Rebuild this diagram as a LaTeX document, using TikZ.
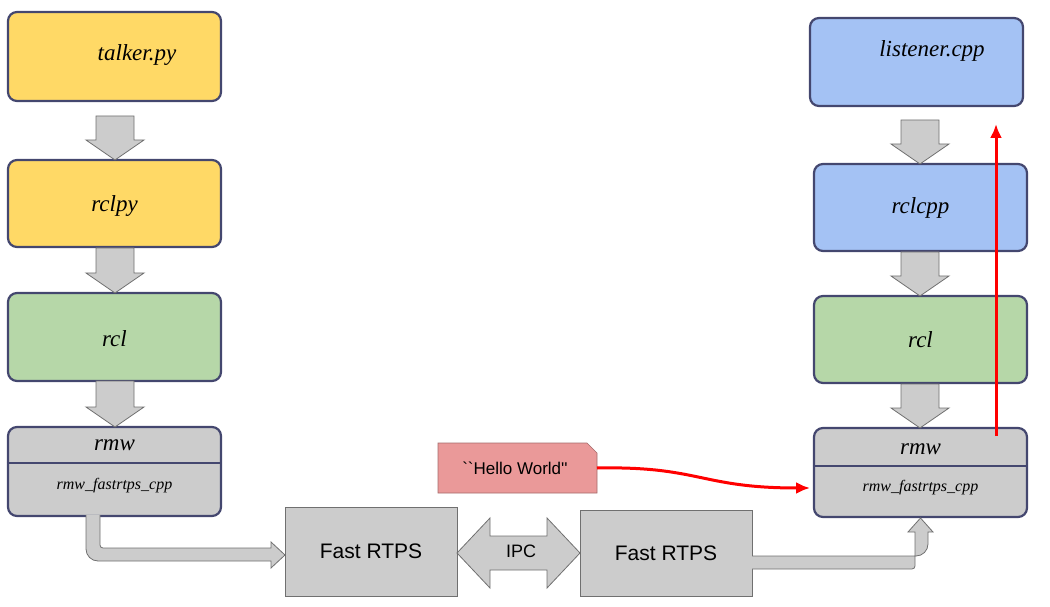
\documentclass[tikz,border=0pt]{standalone}
\usepackage{fontspec}
\usetikzlibrary{arrows.meta}
\setmainfont{Liberation Serif}
\newfontfamily\sansf{Liberation Sans}
\begin{document}
\begin{tikzpicture}[x=1pt,y=1pt,
  box/.style={draw=boxline,line width=2.2pt,rounded corners=9pt,minimum width=213pt,inner sep=0pt},
  lbl/.style={font=\itshape\fontsize{23}{25}\selectfont},
  gray arrow/.style={fill=arrgray,draw=arrline,line width=0.8pt},
  rtps/.style={draw=arrline,fill=arrgray,line width=0.8pt,minimum width=172pt,font=\sansf\fontsize{21}{23}\selectfont}]
\definecolor{boxline}{HTML}{44476F}
\definecolor{yel}{HTML}{FFD966}
\definecolor{grn}{HTML}{B6D7A8}
\definecolor{blu}{HTML}{A4C2F4}
\definecolor{arrgray}{HTML}{CCCCCC}
\definecolor{arrline}{HTML}{707070}
\definecolor{hw}{HTML}{EA9999}
\useasboundingbox (0,0) rectangle (1050,606);
\newcommand\downarr[3]{\draw[gray arrow] (#1-19,#2) -- (#1+19,#2) -- (#1+19,#3+20) -- (#1+29,#3+20) -- (#1,#3) -- (#1-29,#3+20) -- (#1-19,#3+20) -- cycle;}
% left column
\node[box,fill=yel,minimum height=89pt] (talker) at (114.5,549.5) {};
\node[lbl] at (137,551) {talker.py};
\node[box,fill=yel,minimum height=87pt] (rclpy) at (114.5,402.5) {};
\node[lbl] at (114.5,400) {rclpy};
\node[box,fill=grn,minimum height=88pt] (rcl1) at (114.5,269) {};
\node[lbl] at (114.5,267) {rcl};
\node[box,fill=arrgray,minimum height=89pt] (rmw1) at (114.5,134.5) {};
\draw[boxline,line width=1.2pt] (rmw1.west|-0,143) -- (rmw1.east|-0,143);
\node[lbl] at (114.5,161) {rmw};
\node[font=\itshape\fontsize{16}{18}\selectfont] at (114.5,120) {rmw\_fastrtps\_cpp};
\downarr{115}{490}{446}
\downarr{115}{358}{313}
\downarr{115}{225}{179}
% right column
\node[box,fill=blu,minimum height=88pt] (listener) at (916.5,544) {};
\node[lbl] at (932,555) {listener.cpp};
\node[box,fill=blu,minimum height=87pt] (rclcpp) at (920.5,398.5) {};
\node[lbl] at (920.5,398) {rclcpp};
\node[box,fill=grn,minimum height=87pt] (rcl2) at (920.5,266.5) {};
\node[lbl] at (920.5,266) {rcl};
\node[box,fill=arrgray,minimum height=89pt] (rmw2) at (920.5,133.5) {};
\draw[boxline,line width=1.2pt] (rmw2.west|-0,140) -- (rmw2.east|-0,140);
\node[lbl] at (920.5,157) {rmw};
\node[font=\itshape\fontsize{16}{18}\selectfont] at (920.5,118) {rmw\_fastrtps\_cpp};
\downarr{920}{486}{442}
\downarr{920}{354}{310}
\downarr{920}{222}{178}
% Fast RTPS
\node[rtps,minimum height=89pt] (f1) at (371,54.5) {Fast RTPS};
\node[rtps,minimum height=86pt] (f2) at (666,53) {Fast RTPS};
\draw[gray arrow] (457,53) -- (490,88) -- (490,70) -- (547,70) -- (547,88) -- (580,53) -- (547,18) -- (547,36) -- (490,36) -- (490,18) -- cycle;
\node[font=\sansf\fontsize{18}{20}\selectfont] (ipc) at (521,55) {IPC};
% elbow arrows
\draw[gray arrow] (86,91) [rounded corners=12pt] -- (86,45) [sharp corners] -- (271,45) -- (271,38) -- (285,51) -- (271,64) -- (271,58) [rounded corners=3pt] -- (100,58) [sharp corners] -- (100,91);
\draw[gray arrow] (752,50) [rounded corners=12pt] -- (928,50) [sharp corners] -- (928,74) -- (933,74) -- (920.5,88) -- (908,74) -- (915,74) [rounded corners=3pt] -- (915,37) [sharp corners] -- (752,37);
% Hello World
\draw[fill=hw,draw=hw!70!black,line width=0.6pt] (438,113) -- (597,113) -- (597,153) -- (587,163) -- (438,163) -- cycle;
\node[font=\sansf\fontsize{17}{19}\selectfont] (hello) at (515,138) {``Hello World''};
\coordinate (hwout) at (597,138);
\coordinate (rmwin) at (810,118);
\draw[red,line width=3pt,-{Latex[length=14pt,width=12pt]}] (hwout) .. controls (700,140) and (700,118) .. (rmwin);
\coordinate (up1) at (996,170);
\coordinate (up2) at (996,482);
\draw[red,line width=3pt,-{Latex[length=14pt,width=12pt]}] (up1) -- (up2);
\end{tikzpicture}
\end{document}
